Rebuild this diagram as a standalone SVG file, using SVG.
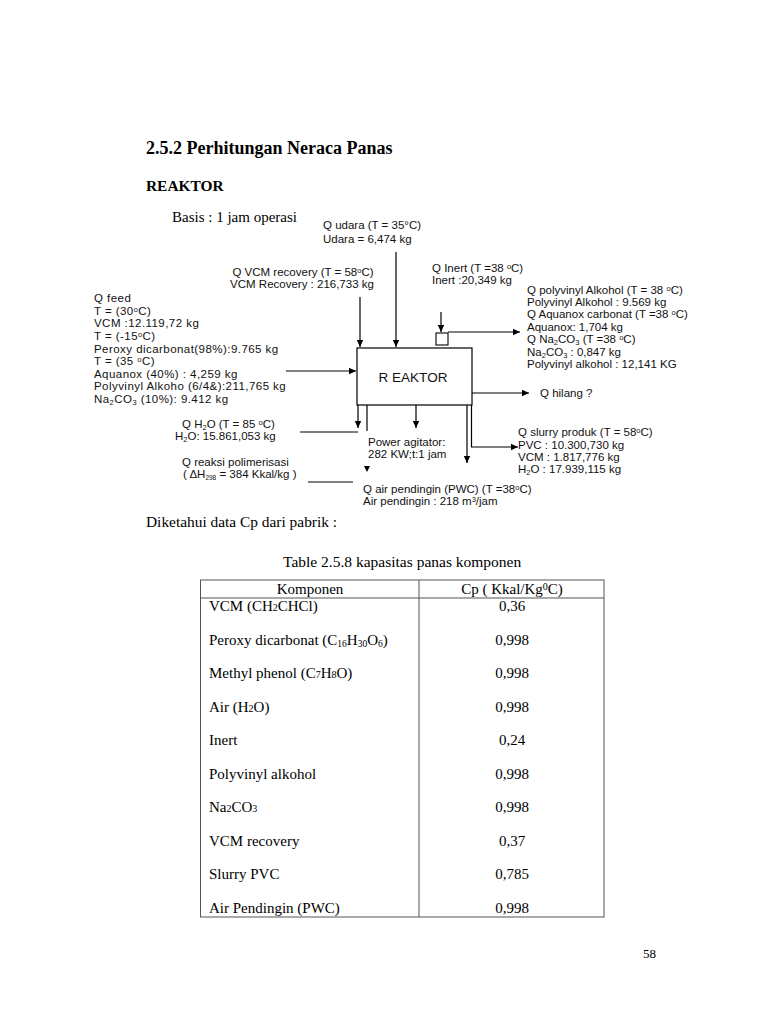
<svg xmlns="http://www.w3.org/2000/svg" width="768" height="1024" viewBox="0 0 768 1024">
<style>
.serif{font-family:"Liberation Serif","Times New Roman",serif;fill:#000}
.sans{font-family:"Liberation Sans",Arial,sans-serif;font-size:11.5px;fill:#111}
.feed{font-family:"Liberation Sans",Arial,sans-serif;font-size:11.5px;letter-spacing:0.45px;fill:#111}
.ln{stroke:#000;stroke-width:1.2;fill:none}
.tl{stroke:#555;stroke-width:1;fill:none}
</style>
<defs>
<marker id="ah" markerWidth="8" markerHeight="8" refX="7" refY="4" orient="auto" markerUnits="userSpaceOnUse">
<path d="M0,0.8 L7,4 L0,7.2 Z" fill="#000"/>
</marker>
</defs>
<rect width="768" height="1024" fill="#fff"/>
<g id="headings">
<text class="serif" x="146" y="154" font-size="18" font-weight="bold">2.5.2 Perhitungan Neraca Panas</text>
<text class="serif" x="146" y="191" font-size="15.4" font-weight="bold">REAKTOR</text>
<text class="serif" x="172" y="222" font-size="15">Basis : 1 jam operasi</text>
</g>
<g id="reaktor">
<rect x="357" y="348" width="115" height="57" fill="#fff" stroke="#000" stroke-width="1.2"/>
<text x="413" y="382" text-anchor="middle" font-family="Liberation Sans,Arial,sans-serif" font-size="13.5" fill="#111">R EAKTOR</text>
</g>
<g id="separator">
<rect x="436" y="333" width="12" height="12" fill="#fff" stroke="#000" stroke-width="1.1"/>
</g>
<g id="connectors">
<line class="ln" x1="396" y1="252" x2="396" y2="347" marker-end="url(#ah)"/>
<line class="ln" x1="360" y1="297" x2="360" y2="347" marker-end="url(#ah)"/>
<line class="ln" x1="441" y1="312" x2="441" y2="332" marker-end="url(#ah)"/>
<line class="ln" x1="448" y1="332" x2="520" y2="332" marker-end="url(#ah)"/>
<line class="ln" x1="286" y1="371" x2="356" y2="371" marker-end="url(#ah)"/>
<line class="ln" x1="472" y1="393" x2="529" y2="393" marker-end="url(#ah)"/>
<line class="ln" x1="358" y1="405" x2="358" y2="428" marker-end="url(#ah)"/>
<line class="ln" x1="300" y1="432" x2="358" y2="432"/>
<line class="ln" x1="367" y1="405" x2="367" y2="431"/>
<line class="ln" x1="416" y1="405" x2="416" y2="428" marker-end="url(#ah)"/>
<line class="ln" x1="467" y1="405" x2="467" y2="463" marker-end="url(#ah)"/>
<polyline class="ln" points="471.5,405 471.5,447 518,447" marker-end="url(#ah)"/>
<line class="ln" x1="308" y1="482" x2="353" y2="482"/>
<path d="M364,466 L370,466 L367,472 Z" fill="#000"/>
</g>
<g id="label-udara">
<text class="sans" x="323" y="229" font-size="11">Q udara (T = 35°C)</text>
<text class="sans" x="323" y="243" font-size="11">Udara = 6,474 kg</text>
</g>
<g id="label-vcm-recovery">
<text class="sans" x="303" y="276" text-anchor="middle">Q VCM recovery (T = 58<tspan dy="-3" font-size="7.5">o</tspan><tspan dy="3">C)</tspan></text>
<text class="sans" x="302" y="288" text-anchor="middle">VCM Recovery : 216,733 kg</text>
</g>
<g id="label-inert">
<text class="sans" x="432" y="272" font-size="11.3">Q  Inert (T =38 <tspan dy="-3" font-size="7.5">o</tspan><tspan dy="3">C)</tspan></text>
<text class="sans" x="432" y="284" font-size="11.3">Inert :20,349 kg</text>
</g>
<g id="label-outlet-top">
<text class="sans" x="527" y="294">Q polyvinyl Alkohol (T = 38 <tspan dy="-3" font-size="7.5">o</tspan><tspan dy="3">C)</tspan></text>
<text class="sans" x="527" y="306">Polyvinyl Alkohol : 9.569 kg</text>
<text class="sans" x="527" y="318">Q  Aquanox carbonat (T =38 <tspan dy="-3" font-size="7.5">o</tspan><tspan dy="3">C)</tspan></text>
<text class="sans" x="527" y="331">Aquanox:  1,704 kg</text>
<text class="sans" x="527" y="343">Q Na<tspan dy="2" font-size="7.5">2</tspan><tspan dy="-2">CO</tspan><tspan dy="2" font-size="7.5">3</tspan><tspan dy="-2"> (T =38 </tspan><tspan dy="-3" font-size="7.5">o</tspan><tspan dy="3">C)</tspan></text>
<text class="sans" x="527" y="356">Na<tspan dy="2" font-size="7.5">2</tspan><tspan dy="-2">CO</tspan><tspan dy="2" font-size="7.5">3</tspan><tspan dy="-2"> : 0,847 kg</tspan></text>
<text class="sans" x="527" y="368">Polyvinyl alkohol : 12,141 KG</text>
</g>
<g id="label-feed">
<text class="feed" x="94" y="302">Q feed</text>
<text class="feed" x="94" y="315">T = (30<tspan dy="-3" font-size="7.5">o</tspan><tspan dy="3">C)</tspan></text>
<text class="feed" x="94" y="327">VCM :12.119,72 kg</text>
<text class="feed" x="94" y="340">T = (-15<tspan dy="-3" font-size="7.5">o</tspan><tspan dy="3">C)</tspan></text>
<text class="feed" x="94" y="353">Peroxy dicarbonat(98%):9.765 kg</text>
<text class="feed" x="94" y="365">T = (35 <tspan dy="-3" font-size="7.5">o</tspan><tspan dy="3">C)</tspan></text>
<text class="feed" x="94" y="378">Aquanox (40%) : 4,259 kg</text>
<text class="feed" x="94" y="390">Polyvinyl Alkoho (6/4&amp;):211,765 kg</text>
<text class="feed" x="94" y="403">Na<tspan dy="2" font-size="7.5">2</tspan><tspan dy="-2">CO</tspan><tspan dy="2" font-size="7.5">3</tspan><tspan dy="-2"> (10%): 9.412 kg</tspan></text>
</g>
<g id="label-hilang">
<text class="sans" x="540" y="397">Q hilang ?</text>
</g>
<g id="label-h2o">
<text class="sans" x="182" y="428" font-size="11.3">Q H<tspan dy="2" font-size="7.5">2</tspan><tspan dy="-2">O (T = 85 </tspan><tspan dy="-3" font-size="7.5">o</tspan><tspan dy="3">C)</tspan></text>
<text class="sans" x="175" y="440" font-size="11.3">H<tspan dy="2" font-size="7.5">2</tspan><tspan dy="-2">O: 15.861,053 kg</tspan></text>
</g>
<g id="label-reaksi">
<text class="sans" x="182" y="466">Q reaksi polimerisasi</text>
<text class="sans" x="183" y="478"> ( ΔH<tspan dy="2" font-size="6.5">298</tspan><tspan dy="-2"> = 384 Kkal/kg )</tspan></text>
</g>
<g id="label-agitator">
<text class="sans" x="368" y="446">Power agitator:</text>
<text class="sans" x="368" y="458">282 KW;t:1 jam</text>
</g>
<g id="label-slurry">
<text class="sans" x="518" y="436">Q slurry produk (T = 58<tspan dy="-3" font-size="7.5">o</tspan><tspan dy="3">C)</tspan></text>
<text class="sans" x="518" y="449">PVC : 10.300,730 kg</text>
<text class="sans" x="518" y="461">VCM : 1.817,776 kg</text>
<text class="sans" x="518" y="473">H<tspan dy="2" font-size="7.5">2</tspan><tspan dy="-2">O : 17.939,115 kg</tspan></text>
</g>
<g id="label-pendingin">
<text class="sans" x="363" y="493">Q air pendingin (PWC) (T =38<tspan dy="-3" font-size="7.5">o</tspan><tspan dy="3">C)</tspan></text>
<text class="sans" x="363" y="505">Air pendingin : 218 m<tspan dy="-3" font-size="7.5">3</tspan><tspan dy="3">/jam</tspan></text>
</g>
<g id="text-cp">
<text class="serif" x="146" y="527" font-size="15.4">Diketahui data Cp dari pabrik :</text>
<text class="serif" x="283" y="567" font-size="15.5">Table 2.5.8 kapasitas panas komponen</text>
</g>
<g id="table">
<rect class="tl" x="200.5" y="580" width="403.5" height="337"/>
<line class="tl" x1="419" y1="580" x2="419" y2="917"/>
<line class="tl" x1="200.5" y1="598" x2="604" y2="598"/>
<g class="serif" font-size="15">
<text x="310" y="594" text-anchor="middle">Komponen</text>
<text x="512" y="594" text-anchor="middle">Cp ( Kkal/Kg<tspan dy="-4" font-size="10">0</tspan><tspan dy="4">C)</tspan></text>
<text x="209" y="611">VCM (CH<tspan font-size="10">2</tspan>CHCl)</text>
<text x="209" y="645">Peroxy dicarbonat (C<tspan dy="2" font-size="9.5">16</tspan><tspan dy="-2">H</tspan><tspan dy="2" font-size="9.5">30</tspan><tspan dy="-2">O</tspan><tspan dy="2" font-size="9.5">6</tspan><tspan dy="-2">)</tspan></text>
<text x="209" y="678">Methyl phenol (C<tspan font-size="10">7</tspan>H<tspan font-size="10">8</tspan>O)</text>
<text x="209" y="712">Air (H<tspan font-size="10">2</tspan>O)</text>
<text x="209" y="745">Inert</text>
<text x="209" y="779">Polyvinyl alkohol</text>
<text x="209" y="812">Na<tspan font-size="10">2</tspan>CO<tspan font-size="10">3</tspan></text>
<text x="209" y="846">VCM recovery</text>
<text x="209" y="879">Slurry PVC</text>
<text x="209" y="913">Air Pendingin (PWC)</text>
<text x="512" y="611" text-anchor="middle">0,36</text>
<text x="512" y="645" text-anchor="middle">0,998</text>
<text x="512" y="678" text-anchor="middle">0,998</text>
<text x="512" y="712" text-anchor="middle">0,998</text>
<text x="512" y="745" text-anchor="middle">0,24</text>
<text x="512" y="779" text-anchor="middle">0,998</text>
<text x="512" y="812" text-anchor="middle">0,998</text>
<text x="512" y="846" text-anchor="middle">0,37</text>
<text x="512" y="879" text-anchor="middle">0,785</text>
<text x="512" y="913" text-anchor="middle">0,998</text>
</g>
</g>
<g id="page-number">
<text class="serif" x="643" y="958" font-size="13">58</text>
</g>
</svg>
